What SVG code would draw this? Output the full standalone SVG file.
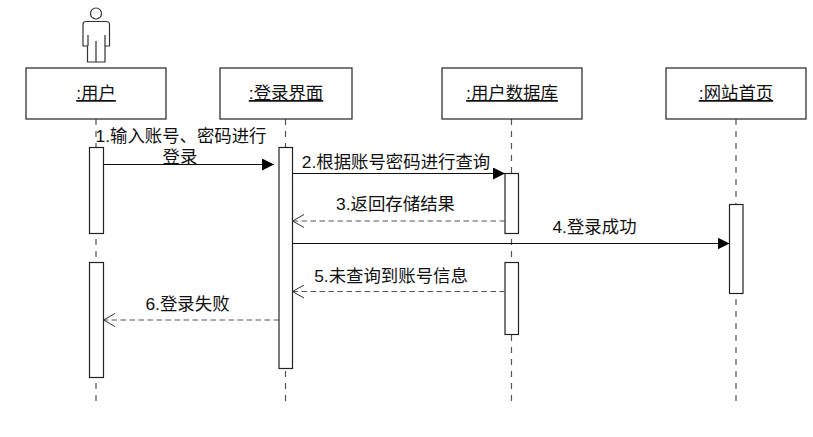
<svg xmlns="http://www.w3.org/2000/svg" width="813" height="437" viewBox="0 0 813 437">
<style>
.box{fill:#fff;stroke:#222;stroke-width:1.2}
.bar{fill:#fff;stroke:#222;stroke-width:1.2}
.life{fill:none;stroke:#555;stroke-width:1.2;stroke-dasharray:6 6}
.msg{fill:none;stroke:#111;stroke-width:1.2}
.ret{fill:none;stroke:#555;stroke-width:1.2;stroke-dasharray:5.5 3.5}
text{font-family:"Liberation Sans","Noto Sans CJK SC",sans-serif;font-size:17.4px;fill:#111;text-anchor:middle}
.name{text-decoration:underline}
</style>
<defs>
<marker id="solid" viewBox="0 0 12 12" refX="12" refY="6" markerWidth="12" markerHeight="12" markerUnits="userSpaceOnUse" orient="auto"><path d="M0 0L12 6L0 12Z" fill="#000"/></marker>
<marker id="open" viewBox="0 0 13 14" refX="12.500" refY="7" markerWidth="13" markerHeight="14" markerUnits="userSpaceOnUse" orient="auto"><path d="M1 0.500L12.500 7L1 13.500" fill="none" stroke="#333" stroke-width="1"/></marker>
</defs>
<g id="lifelines">
<line class="life" x1="96" y1="119" x2="96" y2="403"/>
<line class="life" x1="285.500" y1="119" x2="285.500" y2="403"/>
<line class="life" x1="511.500" y1="119" x2="511.500" y2="403"/>
<line class="life" x1="736" y1="119" x2="736" y2="403"/>
</g>
<g id="actor" fill="#fff" stroke="#333" stroke-width="1.200">
<circle cx="96" cy="13.500" r="5.500"/>
<path d="M87.500 62V46H83V24.500Q83 21.500 86 21.500H106Q109.500 21.500 109.500 24.500V46H105V62Z"/>
<path d="M88 35V46M96 41V62M105 35V46" fill="none"/>
</g>
<g id="node-user"><rect class="box" x="26" y="68" width="140" height="51"/><text class="name" x="96" y="99">:用户</text></g>
<g id="node-login"><rect class="box" x="220" y="68" width="132" height="51"/><text class="name" x="286" y="99">:登录界面</text></g>
<g id="node-db"><rect class="box" x="442" y="68" width="140" height="51"/><text class="name" x="512" y="99">:用户数据库</text></g>
<g id="node-home"><rect class="box" x="666" y="68" width="140" height="51"/><text class="name" x="736" y="99">:网站首页</text></g>
<g id="activations">
<rect class="bar" x="89.500" y="147.500" width="14" height="86"/>
<rect class="bar" x="89.500" y="262.500" width="14" height="115"/>
<rect class="bar" x="279" y="147.500" width="13.500" height="221"/>
<rect class="bar" x="505" y="173.500" width="13.500" height="60"/>
<rect class="bar" x="505" y="262.500" width="13.500" height="72"/>
<rect class="bar" x="729.500" y="204.500" width="13.500" height="89"/>
</g>
<g id="connectors">
<line class="msg" x1="103.500" y1="164.500" x2="274" y2="164.500" marker-end="url(#solid)"/>
<line class="msg" x1="292.500" y1="173.500" x2="505" y2="173.500" marker-end="url(#solid)"/>
<line class="ret" x1="505" y1="221" x2="292.500" y2="221" marker-end="url(#open)"/>
<line class="msg" x1="292.500" y1="243.500" x2="729.500" y2="243.500" marker-end="url(#solid)"/>
<line class="ret" x1="505" y1="291.500" x2="292.500" y2="291.500" marker-end="url(#open)"/>
<line class="ret" x1="279" y1="320" x2="103.500" y2="320" marker-end="url(#open)"/>
</g>
<g id="labels">
<text x="181" y="142">1.输入账号、密码进行</text>
<text x="180" y="163">登录</text>
<text x="396" y="168">2.根据账号密码进行查询</text>
<text x="395.500" y="210">3.返回存储结果</text>
<text x="594.500" y="233">4.登录成功</text>
<text x="391" y="282">5.未查询到账号信息</text>
<text x="187.500" y="310">6.登录失败</text>
</g>
</svg>
